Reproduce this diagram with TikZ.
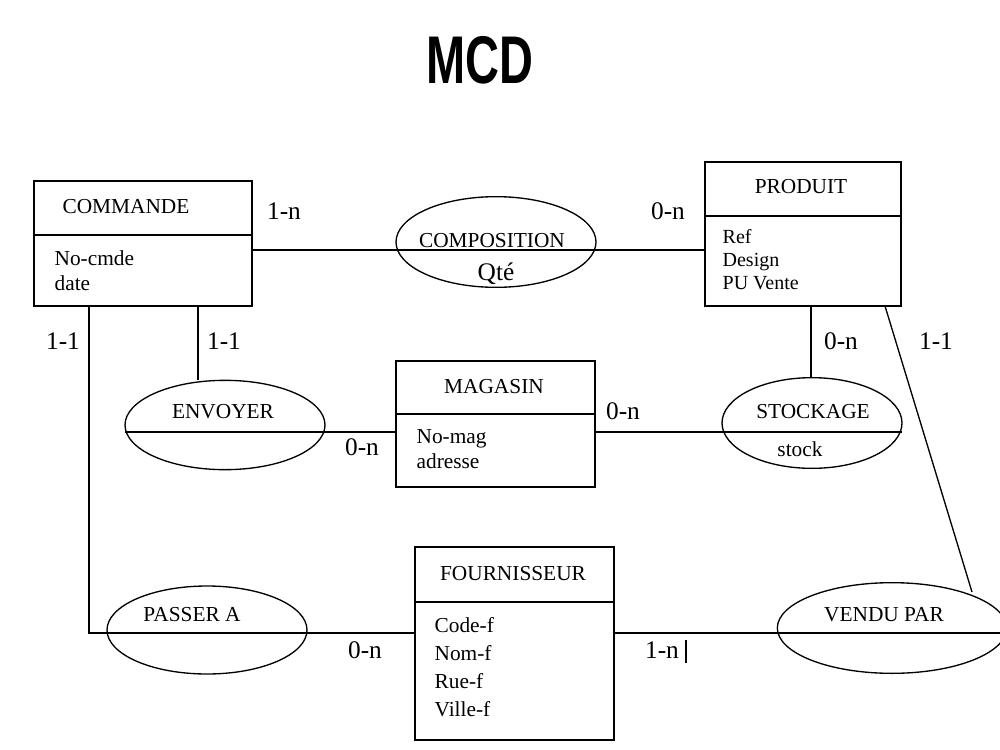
\documentclass[tikz,border=0pt]{standalone}
\usepackage{fontspec}
\setmainfont{Liberation Serif}
\newfontfamily\titlefont{Liberation Sans}
\usetikzlibrary{shapes.geometric}
\begin{document}
\begin{tikzpicture}[x=0.75pt,y=-0.75pt,line width=1pt,
  lbl/.style={font=\fontsize{16}{19}\selectfont,inner sep=0pt},
  card/.style={font=\fontsize{19}{21}\selectfont,inner sep=0pt},
  att/.style={font=\fontsize{16}{19}\selectfont,inner sep=0pt,align=left,anchor=north west},
  rel/.style={draw,ellipse,inner sep=0pt}]
\useasboundingbox (0,0) rectangle (1000,750);
\node[font=\titlefont\bfseries\fontsize{44}{48}\selectfont] (title) at (480,60) {\scalebox{0.8}[1.15]{MCD}};
% entities
\draw (34,181) rectangle (252,306); \draw (34,235) -- (252,235);
\node[lbl] (commande) at (126,207) {COMMANDE};
\node[att] (cattr) at (54,250) {No-cmde\\date};
\draw (705,162) rectangle (901,306); \draw (705,216) -- (901,216);
\node[lbl] (produit) at (801,187) {PRODUIT};
\node[att,font=\fontsize{15}{17}\selectfont] (pattr) at (722,229) {Ref\\Design\\PU Vente};
\draw (396,361) rectangle (595,487); \draw (396,414) -- (595,414);
\node[lbl] (magasin) at (494,387) {MAGASIN};
\node[att] (mattr) at (416,429) {No-mag\\adresse};
\draw (415,547) rectangle (614,740); \draw (415,602) -- (614,602);
\node[lbl] (fourn) at (513,574) {FOURNISSEUR};
\node[att,font=\fontsize{16}{21}\selectfont] (fattr) at (434,617) {Code-f\\Nom-f\\Rue-f\\Ville-f};
% named points
\coordinate (c1) at (89,306); \coordinate (c1b) at (89,633);
\coordinate (c2) at (198,306); \coordinate (e1) at (198,380);
\coordinate (p1) at (811,306); \coordinate (s1) at (811,378);
\coordinate (p2) at (885,306); \coordinate (v1) at (972,592);
\coordinate (cr) at (252,250); \coordinate (pl) at (705,250);
\coordinate (el) at (125,432); \coordinate (ml) at (396,432);
\coordinate (mr) at (595,432); \coordinate (sr) at (902,432);
\coordinate (fl) at (415,633); \coordinate (fr) at (614,633); \coordinate (vr) at (1000,633);
% relations (sizes in pt = 0.75 px)
\node[rel,minimum width=150pt,minimum height=68pt] (compo) at (496,242) {};
\node[rel,minimum width=150pt,minimum height=67pt] (envoyer) at (225,425) {};
\node[rel,minimum width=135pt,minimum height=68pt] (stock) at (812,423) {};
\node[rel,minimum width=150pt,minimum height=66pt] (passer) at (207,630) {};
\node[rel,minimum width=172pt,minimum height=68pt] (vendu) at (892,628) {};
\node[lbl] at (492,241) {COMPOSITION};
\node[lbl,font=\fontsize{19}{21}\selectfont] at (496,274) {Qté};
\node[lbl] at (223,412) {ENVOYER};
\node[lbl] at (813,412) {STOCKAGE};
\node[lbl] at (800,449) {stock};
\node[lbl] at (192,615) {PASSER A};
\node[lbl] at (884,615) {VENDU PAR};
% connectors
\draw (cr) -- (pl);
\draw (el) -- (ml); \draw (mr) -- (sr);
\draw (c1) -- (c1b) -- (fl);
\draw (fr) -- (vr);
\draw (c2) -- (e1);
\draw (p1) -- (s1);
\draw (p2) -- (v1);
\draw[line width=1.5pt] (686,640) -- (686,663);
% cardinalities
\node[card] at (284,211) {1-n};
\node[card] at (668,211) {0-n};
\node[card] at (63,341) {1-1};
\node[card] at (224,341) {1-1};
\node[card] at (841,341) {0-n};
\node[card] at (936,341) {1-1};
\node[card] at (623,411) {0-n};
\node[card] at (362,447) {0-n};
\node[card] at (365,650) {0-n};
\node[card] at (662,650) {1-n};
\end{tikzpicture}
\end{document}
